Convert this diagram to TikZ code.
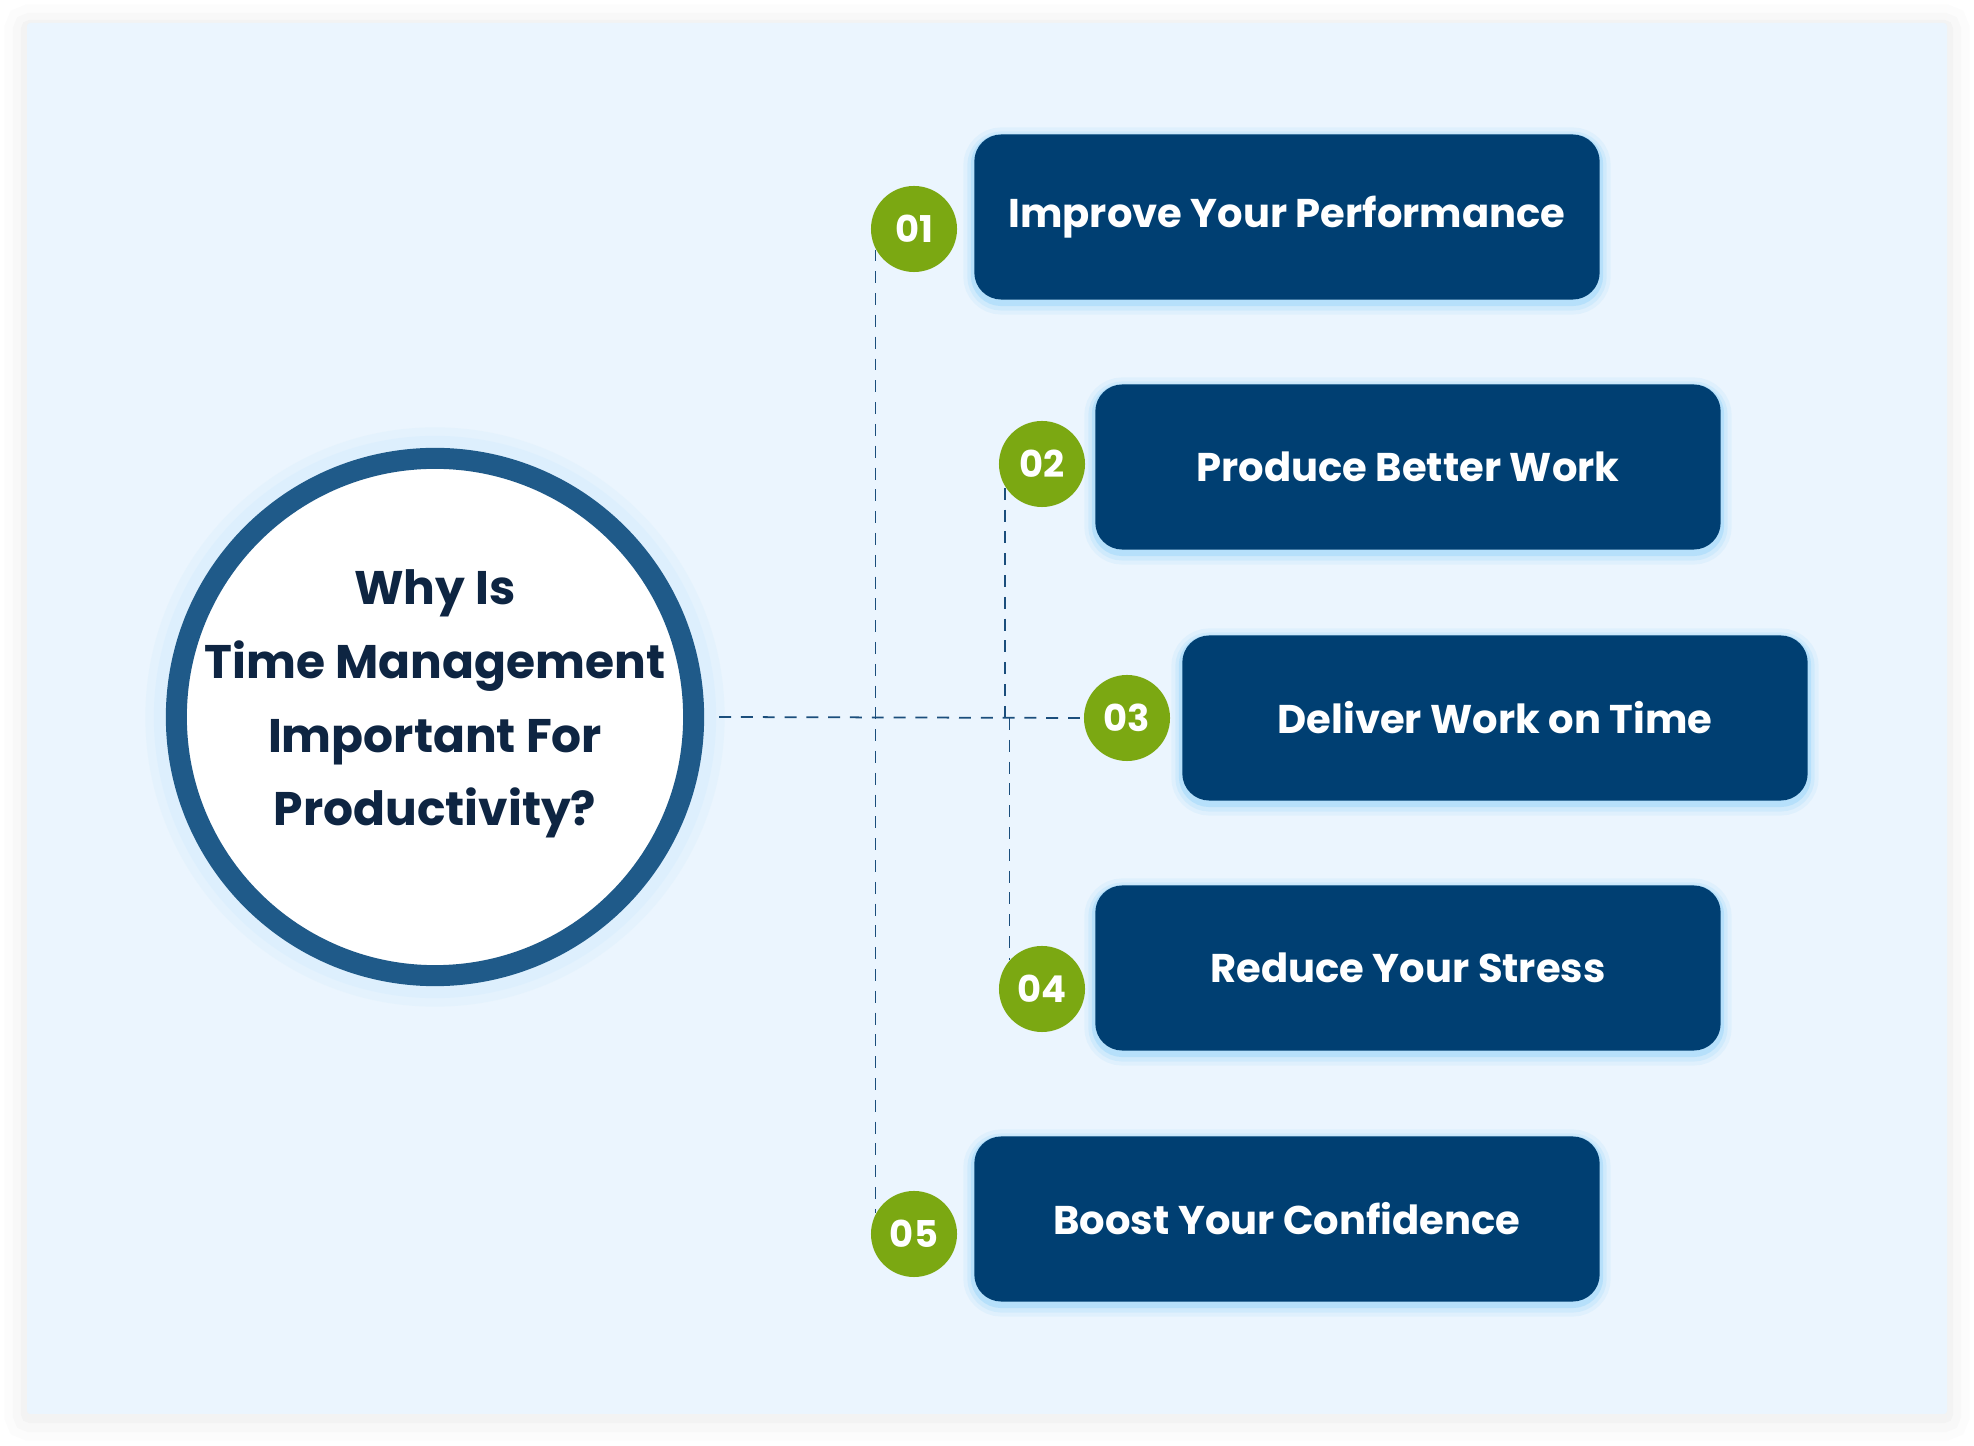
\documentclass[tikz,border=0pt]{standalone}
\usepackage{fontspec}
\setmainfont{Poppins}
\definecolor{panelbg}{HTML}{EBF5FE}
\definecolor{boxblue}{HTML}{003F72}
\definecolor{ringblue}{HTML}{1F5A89}
\definecolor{titleblue}{HTML}{0E2542}
\definecolor{numgreen}{HTML}{7BA812}
\definecolor{linkblue}{HTML}{1B4E7C}
\definecolor{glowblue}{HTML}{8ACFFA}

\begin{document}
\begin{tikzpicture}[x=0.01cm,y=-0.01cm,
	boxglow/.style={
		preaction={draw=glowblue,line width=0.22cm,draw opacity=0.12,transform canvas={yshift=-0.04cm}},
		preaction={draw=glowblue,line width=0.14cm,draw opacity=0.18,transform canvas={yshift=-0.04cm}},
		preaction={draw=glowblue,line width=0.07cm,draw opacity=0.35,transform canvas={yshift=-0.03cm}}},
	reason/.style={boxglow,rectangle,rounded corners=0.27cm,fill=boxblue,
		minimum width=6.25cm,minimum height=1.65cm,text=white,
		font=\bfseries\fontsize{11.4}{14}\selectfont},
	num/.style={circle,fill=numgreen,minimum size=0.86cm,inner sep=0pt,text=white,
		font=\bfseries\fontsize{10.5}{12}\selectfont},
	question/.style={circle,draw=ringblue,line width=0.21cm,fill=white,minimum size=5.17cm,
		inner sep=0pt,
		preaction={draw=glowblue!40,line width=0.62cm,draw opacity=0.25},
		preaction={draw=glowblue!40,line width=0.45cm,draw opacity=0.35}},
	qtext/.style={align=center,text=titleblue,yshift=0.13cm,
		font=\bfseries\fontsize{13.4}{21}\selectfont},
	panelshade/.style={
		preaction={draw=black,draw opacity=0.012,line width=0.45cm,transform canvas={yshift=-0.04cm}},
		preaction={draw=black,draw opacity=0.015,line width=0.28cm,transform canvas={yshift=-0.04cm}},
		preaction={draw=black,draw opacity=0.018,line width=0.12cm,transform canvas={yshift=-0.03cm}}},
	link/.style={draw=linkblue,line width=0.5pt,dash pattern=on 3.4pt off 2.8pt}]
	\useasboundingbox (0,0) rectangle (1974,1446);
	\fill[white] (0,0) rectangle (1974,1446);
	\path[panelshade,fill=panelbg,rounded corners=0.03cm] (27,23) rectangle (1947,1414);

	\node[question,label={[qtext]center:Why Is\\Time Management\\Important For\\Productivity?}] (why) at (435,717) {};

	\node[reason] (perf) at (1287,217) {Improve Your Performance};
	\node[reason] (work) at (1408,467) {Produce Better Work};
	\node[reason] (time) at (1495,718) {Deliver Work on Time};
	\node[reason] (stress) at (1408,968) {Reduce Your Stress};
	\node[reason] (conf) at (1287,1219) {Boost Your Confidence};

	\node[num] (n1) at (914,229) {01};
	\node[num] (n2) at (1042,464) {02};
	\node[num] (n3) at (1127,718) {03};
	\node[num] (n4) at (1042,989) {04};
	\node[num] (n5) at (914,1234) {05};

	\draw[link] (n1.-152) -- (n5.152);
	\draw[link] (n2.-147) -- (n2.-147 |- n3);
	\draw[link] (n4.138 |- n3) -- (n4.138);
	\draw[link] ([xshift=0.15cm]why.east) -- (n3.west);
\end{tikzpicture}
\end{document}
